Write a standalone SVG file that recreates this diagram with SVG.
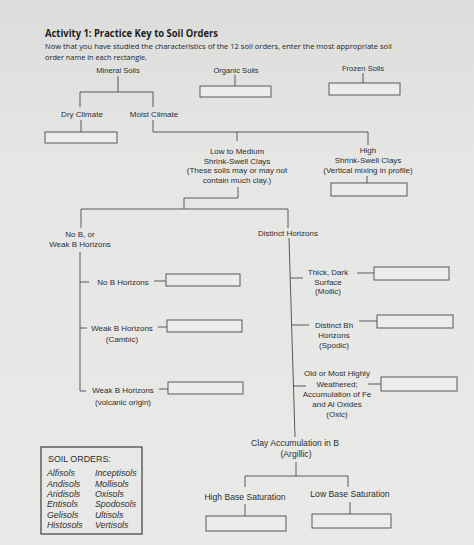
<svg xmlns="http://www.w3.org/2000/svg" width="474" height="545" viewBox="0 0 474 545">
<defs>
<linearGradient id="paper" x1="0" y1="0" x2="0" y2="1">
<stop offset="0" stop-color="#dcdcdb"/>
<stop offset="0.3" stop-color="#e6e6e5"/>
<stop offset="1" stop-color="#e9e9e7"/>
</linearGradient>
<style>
.t{font-family:"Liberation Sans",Arial,sans-serif;font-size:8px;fill:#2e2e2e;text-anchor:middle}
.s{font-size:7.6px}
.b{font-size:8.6px}
.l{text-anchor:start;font-size:8.9px}
.it{font-family:"Liberation Sans",Arial,sans-serif;font-size:8.8px;font-style:italic;fill:#2e2e2e}
.c{fill:none;stroke:#4a4a4a;stroke-width:0.9}
.box{fill:#ececea;stroke:#4a4a4a;stroke-width:0.9}
.hd{font-family:"Open Sans","Liberation Sans",sans-serif;fill:#1e1e1e}
</style>
</defs>
<rect x="0" y="0" width="474" height="545" fill="url(#paper)"/>

<g id="header">
<text class="hd" x="45" y="37" font-size="11" font-weight="bold" textLength="173" lengthAdjust="spacingAndGlyphs">Activity 1: Practice Key to Soil Orders</text>
<text class="hd" x="45" y="49" font-size="7.4" textLength="347" lengthAdjust="spacingAndGlyphs">Now that you have studied the characteristics of the 12 soil orders, enter the most appropriate soil</text>
<text class="hd" x="45" y="60" font-size="7.4" textLength="102" lengthAdjust="spacingAndGlyphs">order name in each rectangle.</text>
</g>

<g id="connectors">
<path class="c" d="M118,76 V92 M80,107 V92 H153 V107"/>
<line class="c" x1="235" y1="75" x2="235" y2="86"/>
<line class="c" x1="363" y1="73" x2="363" y2="83"/>
<line class="c" x1="81" y1="120" x2="81" y2="132"/>
<path class="c" d="M153,120 V132 H368 V145 M237,132 V141"/>
<line class="c" x1="367" y1="176" x2="367" y2="183"/>
<path class="c" d="M238,187 V198 H184 V209 M81,228 V209 H288 V228"/>
<path class="c" d="M80,252 V391 H86 M80,282 H89 M80,328 H87"/>
<line class="c" x1="154" y1="281" x2="166" y2="281"/>
<line class="c" x1="158" y1="327" x2="167" y2="327"/>
<line class="c" x1="159" y1="389" x2="168" y2="389"/>
<path class="c" d="M289,238 L295,437 M290,278 H303 M291,325 H309 M293,386 H306"/>
<line class="c" x1="357" y1="273" x2="374" y2="273"/>
<line class="c" x1="359" y1="321" x2="377" y2="321"/>
<line class="c" x1="368" y1="384" x2="381" y2="384"/>
<path class="c" d="M296,462 V476 M245,487 V476 H348 V487"/>
<line class="c" x1="245" y1="504" x2="245" y2="516"/>
<line class="c" x1="350" y1="502" x2="350" y2="514"/>
</g>

<g id="mineral"><text class="t s" x="118" y="73">Mineral Soils</text></g>
<g id="organic"><text class="t s" x="236" y="73">Organic Soils</text><rect class="box" x="200" y="86" width="71" height="11"/></g>
<g id="frozen"><text class="t s" x="363" y="71">Frozen Soils</text><rect class="box" x="329" y="83" width="71" height="12"/></g>
<g id="dry"><text class="t" x="82" y="117">Dry Climate</text><rect class="box" x="45" y="132" width="72" height="11"/></g>
<g id="moist"><text class="t" x="154" y="117">Moist Climate</text></g>
<g id="lowmed">
<text class="t" x="237" y="154">Low to Medium</text>
<text class="t" x="237" y="163.5">Shrink-Swell Clays</text>
<text class="t" x="237" y="173">(These soils may or may not</text>
<text class="t" x="237" y="182.5">contain much clay.)</text>
</g>
<g id="high">
<text class="t" x="368" y="153">High</text>
<text class="t" x="368" y="163">Shrink-Swell Clays</text>
<text class="t" x="368" y="172.5">(Vertical mixing in profile)</text>
<rect class="box" x="331" y="183" width="76" height="13"/>
</g>
<g id="nob-weak">
<text class="t" x="80" y="237">No B, or</text>
<text class="t" x="80" y="247">Weak B Horizons</text>
</g>
<g id="distinct"><text class="t" x="288" y="236">Distinct Horizons</text></g>
<g id="nob"><text class="t" x="123" y="284.5">No B Horizons</text><rect class="box" x="166" y="274" width="74" height="12"/></g>
<g id="cambic">
<text class="t" x="122" y="331">Weak B Horizons</text>
<text class="t" x="122" y="342">(Cambic)</text>
<rect class="box" x="167" y="320" width="75" height="12"/>
</g>
<g id="volcanic">
<text class="t" x="123" y="393">Weak B Horizons</text>
<text class="t" x="123" y="405">(volcanic origin)</text>
<rect class="box" x="168" y="382" width="75" height="12"/>
</g>
<g id="mollic">
<text class="t" x="328" y="275">Thick, Dark</text>
<text class="t" x="328" y="284.5">Surface</text>
<text class="t" x="328" y="294">(Mollic)</text>
<rect class="box" x="374" y="267" width="75" height="13"/>
</g>
<g id="spodic">
<text class="t" x="334" y="328">Distinct Bh</text>
<text class="t" x="334" y="338">Horizons</text>
<text class="t" x="334" y="348">(Spodic)</text>
<rect class="box" x="377" y="315" width="76" height="13"/>
</g>
<g id="oxic">
<text class="t" x="337" y="376">Old or Most Highly</text>
<text class="t" x="337" y="386.5">Weathered;</text>
<text class="t" x="337" y="397">Accumulation of Fe</text>
<text class="t" x="337" y="407">and Al Oxides</text>
<text class="t" x="337" y="417">(Oxic)</text>
<rect class="box" x="381" y="377" width="76" height="14"/>
</g>
<g id="argillic">
<text class="t b" x="295" y="446">Clay Accumulation in B</text>
<text class="t b" x="296" y="457">(Argillic)</text>
</g>
<g id="highbase"><text class="t b" x="245" y="500">High Base Saturation</text><rect class="box" x="206" y="516" width="80" height="15"/></g>
<g id="lowbase"><text class="t b" x="350" y="497">Low Base Saturation</text><rect class="box" x="312" y="514" width="79" height="14"/></g>

<g id="soil-orders">
<rect x="41" y="447" width="101" height="87" fill="#e8e8e6" stroke="#3e3e3e" stroke-width="1.2"/>
<text class="t l" x="48" y="462">SOIL ORDERS:</text>
<text class="it" x="47" y="476">Alfisols</text><text class="it" x="95" y="476">Inceptisols</text>
<text class="it" x="47" y="486.5">Andisols</text><text class="it" x="95" y="486.5">Mollisols</text>
<text class="it" x="47" y="497">Aridisols</text><text class="it" x="95" y="497">Oxisols</text>
<text class="it" x="47" y="507">Entisols</text><text class="it" x="95" y="507">Spodosols</text>
<text class="it" x="47" y="517.5">Gelisols</text><text class="it" x="95" y="517.5">Ultisols</text>
<text class="it" x="47" y="528">Histosols</text><text class="it" x="95" y="528">Vertisols</text>
</g>
</svg>
